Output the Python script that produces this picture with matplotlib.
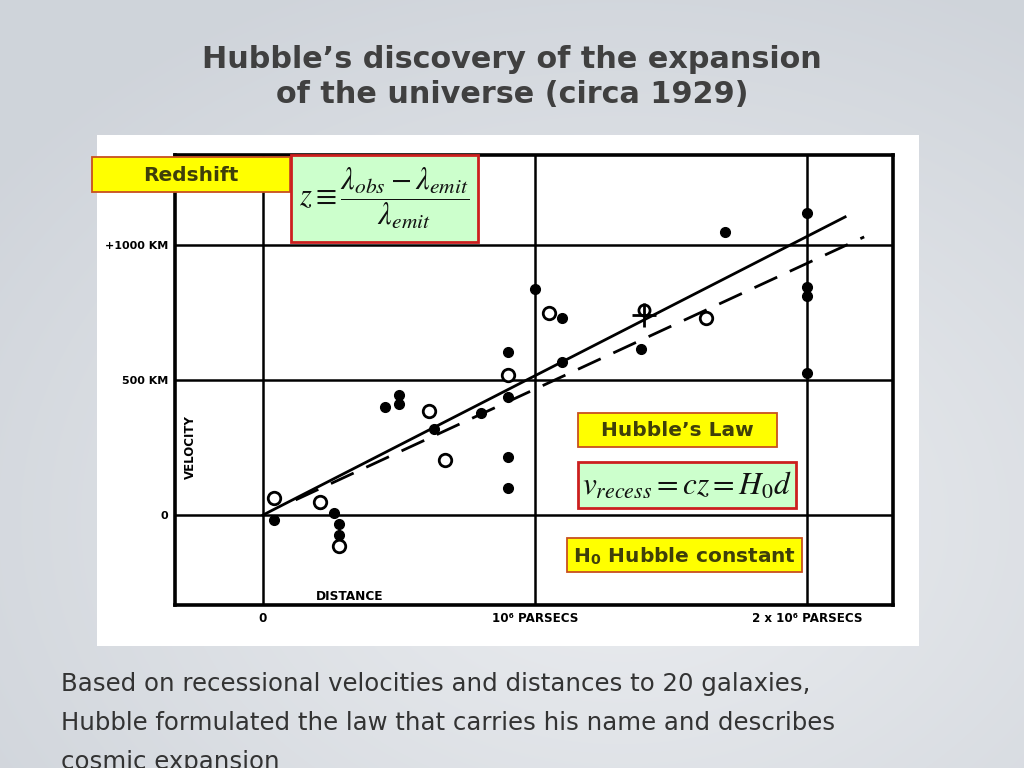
import matplotlib.pyplot as plt
from matplotlib.patches import Rectangle
import numpy as np

plt.rcParams['mathtext.fontset'] = 'stix'

# Hubble (1929): distance in 10^6 parsecs, velocity in km/s
filled_dist = [0.04, 0.21, 0.26, 0.28, 0.28, 0.45, 0.50, 0.50, 0.63, 0.80, 0.90, 0.90,
               0.90, 0.90, 1.00, 1.10, 1.10, 1.39, 1.70, 2.00, 2.00, 2.00, 2.00]
filled_vel = [-19, 41, 7, -33, -74, 400, 444, 411, 319, 378, 604, 437,
              215, 100, 837, 730, 567, 615, 1048, 1119, 844, 811, 526]
open_dist = [0.04, 0.21, 0.28, 0.61, 0.67, 0.90, 1.05, 1.63]
open_vel = [63, 48, -115, 385, 204, 519, 748, 730]
cross_dist = [1.40]
cross_vel = [759]

solid_dist = [0.0, 2.14]
solid_vel = [0, 1104]
dashed_dist = [0.12, 2.21]
dashed_vel = [56, 1030]

yticks = [0, 500, 1000]
ytick_labels = ['0', '500 KM', '+1000 KM']
xticks = [0, 1, 2]
xtick_labels = ['0', '10\u2076 PARSECS', '2 x 10\u2076 PARSECS']

title = "Hubble\u2019s discovery of the expansion\nof the universe (circa 1929)"
body = ["Based on recessional velocities and distances to 20 galaxies,",
        "Hubble formulated the law that carries his name and describes",
        "cosmic expansion"]

W, H = 1024, 768
fig = plt.figure(figsize=(W / 100, H / 100), dpi=100)

# slide background
bg = fig.add_axes([0, 0, 1, 1], zorder=-2)
bg.set_xlim(0, W)
bg.set_ylim(H, 0)
bg.axis('off')
yy, xx = np.mgrid[0:H, 0:W]
r = np.sqrt(((xx - 620) / W) ** 2 + ((yy - 520) / H) ** 2)
r = np.clip(r / 0.75, 0, 1)
c0 = np.array([0.925, 0.933, 0.945])
c1 = np.array([0.815, 0.833, 0.858])
img = c0[None, None, :] * (1 - r[..., None]) + c1[None, None, :] * r[..., None]
bg.imshow(img, extent=(0, W, H, 0), aspect='auto', interpolation='bilinear')
bg.add_patch(Rectangle((97, 135), 822, 511, facecolor='white', edgecolor='none'))

bg.text(512, 77, title, ha='center', va='center', fontsize=21.8, fontweight='bold',
        family='DejaVu Sans', color='#404040', linespacing=1.22)
for i, line in enumerate(body):
    bg.text(61, 684 + 39 * i, line, ha='left', va='center', fontsize=17.6,
            family='DejaVu Sans', color='#333333')

# the plate itself
ax = fig.add_axes([175 / W, 1 - 605 / H, (893 - 175) / W, 450 / H])
ax.set_xlim(-0.3235, 2.316)
ax.set_ylim(-333.3, 1333.3)
for s in ax.spines.values():
    s.set_linewidth(2.6)
for x in xticks:
    ax.axvline(x, color='black', lw=1.8, zorder=1)
for y in yticks:
    ax.axhline(y, color='black', lw=1.8, zorder=1)

ax.plot(solid_dist, solid_vel, color='black', lw=2.0, zorder=2)
ax.plot(dashed_dist, dashed_vel, color='black', lw=2.0, dashes=(9, 5), zorder=2)
ax.plot(filled_dist, filled_vel, 'o', color='black', ms=7, zorder=3)
ax.plot(open_dist, open_vel, 'o', mfc='white', mec='black', mew=2.0, ms=9, zorder=3)
ax.plot(cross_dist, cross_vel, 'o', mfc='none', mec='black', mew=2.0, ms=8, zorder=3)
ax.plot(cross_dist, [v - 18 for v in cross_vel], '+', color='black', mew=2.0, ms=17, zorder=3)

ax.set_yticks(yticks)
ax.set_yticklabels(ytick_labels, fontsize=8, fontweight='bold')
ax.set_xticks(xticks)
ax.set_xticklabels(xtick_labels, fontsize=8.6, fontweight='bold')
ax.tick_params(length=0, pad=5)
ax.text(-0.265, 250, 'VELOCITY', rotation=90, ha='center', va='center',
        fontsize=8.5, fontweight='bold')
ax.text(0.32, -300, 'DISTANCE', ha='center', va='center', fontsize=8.7, fontweight='bold')

# annotations pasted over the plate
ov = fig.add_axes([0, 0, 1, 1], zorder=10)
ov.set_xlim(0, W)
ov.set_ylim(H, 0)
ov.axis('off')
ov.patch.set_alpha(0)

yellow_edge = '#c8501e'
green_edge = '#cc1f1f'
txt_col = '#3f3f0a'


def ybox(x0, y0, x1, y1, label):
    ov.add_patch(Rectangle((x0, y0), x1 - x0, y1 - y0, facecolor='#ffff00',
                           edgecolor=yellow_edge, lw=1.3))
    ov.text((x0 + x1) / 2, (y0 + y1) / 2 + 1, label, ha='center', va='center',
            fontsize=14.5, fontweight='bold', family='DejaVu Sans', color=txt_col)


def gbox(x0, y0, x1, y1, formula, fs):
    ov.add_patch(Rectangle((x0, y0), x1 - x0, y1 - y0, facecolor='#ccffcc',
                           edgecolor=green_edge, lw=2.0))
    ov.text((x0 + x1) / 2, (y0 + y1) / 2, formula, ha='center', va='center',
            fontsize=fs, color='#111111')


ybox(92, 157, 290, 192, 'Redshift')
gbox(291, 155, 478, 242, r'$z \equiv \dfrac{\lambda_{obs} - \lambda_{emit}}{\lambda_{emit}}$', 22)
ybox(578, 413, 777, 447, 'Hubble\u2019s Law')
gbox(578, 462, 796, 508, r'$v_{recess} = cz = H_0 d$', 22.5)
ybox(567, 538, 802, 572, r'H$_\mathregular{0}$ Hubble constant')

fig.savefig('out.png', dpi=100)
